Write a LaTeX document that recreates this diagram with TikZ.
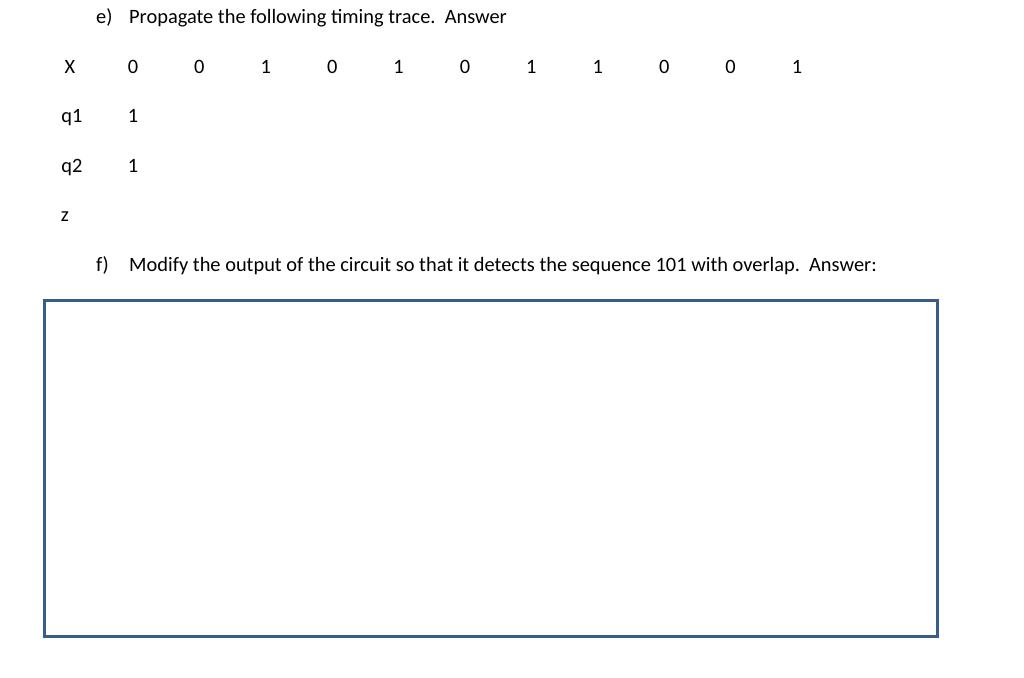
\documentclass[tikz,border=0pt]{standalone}
\usepackage{fontspec}
\setmainfont{Carlito}
\definecolor{boxblue}{RGB}{56,93,138}
\begin{document}
\begin{tikzpicture}[x=1pt,y=-1pt,
  txt/.style={inner sep=0pt,anchor=base,font=\fontsize{20.4}{22}\selectfont},
  txtw/.style={txt,anchor=base west}]
\useasboundingbox[fill=white] (0,0) rectangle (1024,677);
\node[txtw] (eLab) at (96,23.5) {e)};
\node[txtw] (eTxt) at (129,23.5) {Propagate the following timing trace.\ \ Answer};
\node[txt] (xLab) at (70,73.5) {X};
\node[txt] (q1Lab) at (72,122.5) {q1};
\node[txt] (q2Lab) at (72,172.5) {q2};
\node[txt] (zLab) at (65,221) {z};
\foreach \v [count=\i] in {0,0,1,0,1,0,1,1,0,0,1} {
  \node[txt] (x\i) at ({133+66.4*(\i-1)},73.5) {\v};
}
\node[txt] (q1v) at (133,122.5) {1};
\node[txt] (q2v) at (133,172.5) {1};
\node[txtw] (fLab) at (96,271.5) {f)};
\node[txtw] (fTxt) at (129,271.5) {Modify the output of the circuit so that it detects the sequence 101 with overlap.\ \ Answer:};
\draw[boxblue,line width=3pt] (44,300) rectangle (937,636);
\end{tikzpicture}
\end{document}
